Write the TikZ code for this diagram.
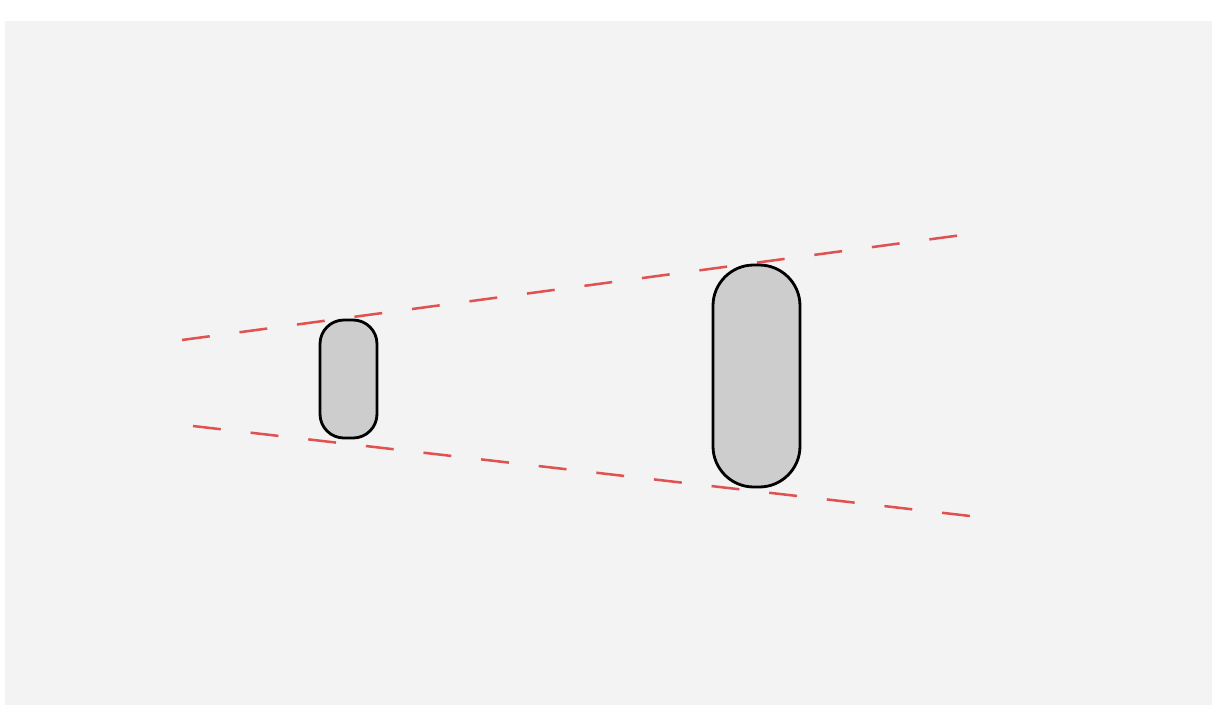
\documentclass[tikz,border=0pt]{standalone}
\usepackage{tikz}
\usepackage{xcolor}
\definecolor{paper}{HTML}{F3F3F3}
\definecolor{capsule}{HTML}{CDCDCD}
\definecolor{sightline}{HTML}{E05252}
\tikzset{
  rayline/.style={draw=sightline, line width=1.8pt, dash pattern=on 19.9pt off 21.35pt},
  capsulebox/.style={fill=capsule, draw=black, line width=2pt}
}
\begin{document}
\begin{tikzpicture}[x=0.025cm, y=-0.025cm]
\useasboundingbox (0, 0) rectangle (1212, 705);
\fill [white] (0, 0) rectangle (1212, 705);
\fill [paper] (5, 21) rectangle (1212, 705);
% sight lines
\coordinate (upA) at (182, 340);
\coordinate (upB) at (962, 235);
\coordinate (loA) at (193, 426);
\coordinate (loB) at (970, 516);
\draw [rayline] (upA) -- (upB);
\draw [rayline] (loA) -- (loB);
% near and far objects
\draw [capsulebox, rounded corners=17] (320, 320) rectangle (377, 438);
\draw [capsulebox, rounded corners=29] (713, 265) rectangle (800, 487);
\end{tikzpicture}
\end{document}
